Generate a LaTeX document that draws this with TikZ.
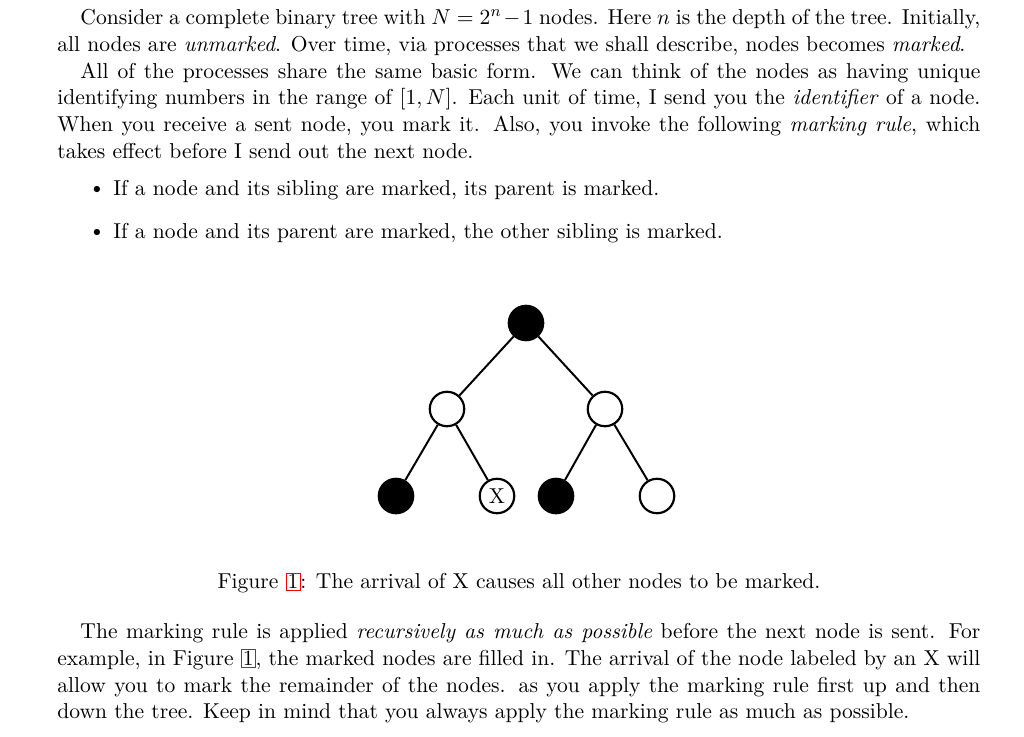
\documentclass[tikz,border=0pt]{standalone}
\usepackage{xcolor}
\begin{document}
\begin{tikzpicture}[x=0.5077pt,y=-0.5077pt,
  para/.style={anchor=north west,inner sep=0pt,text width=468.6pt,align=justify,font=\fontsize{10.95}{13.6}\selectfont},
  tn/.style={circle,draw,line width=1.1pt,minimum size=17.5pt,inner sep=0pt,font=\fontsize{10.95}{13.6}\selectfont},
  filled/.style={tn,fill=black},
  edge/.style={line width=1pt}]
\useasboundingbox (0,0) rectangle (1024,737);
\node[para] (p1) at (57,9) {\hspace*{11.7pt}Consider a complete binary tree with $N=2^n-1$ nodes. Here $n$ is the depth of the tree. Initially,\linebreak
all nodes are \emph{unmarked}. Over time, via processes that we shall describe, nodes becomes \emph{marked}.\hfill\break
\hspace*{11.7pt}All of the processes share the same basic form. We can think of the nodes as having unique\linebreak
identifying numbers in the range of $[1,N]$. Each unit of time, I send you the \emph{identifier} of a node.\linebreak
When you receive a sent node, you mark it. Also, you invoke the following \emph{marking rule}, which\linebreak
takes effect before I send out the next node.};
\node[inner sep=0pt,font=\fontsize{10.95}{13.6}\selectfont] (b1) at (97,190) {\textbullet};
\node[inner sep=0pt,font=\fontsize{10.95}{13.6}\selectfont,anchor=west] (t1) at (113,190) {If a node and its sibling are marked, its parent is marked.};
\node[inner sep=0pt,font=\fontsize{10.95}{13.6}\selectfont] (b2) at (97,233) {\textbullet};
\node[inner sep=0pt,font=\fontsize{10.95}{13.6}\selectfont,anchor=west] (t2) at (113,233) {If a node and its parent are marked, the other sibling is marked.};

\node[filled] (r) at (526,323) {};
\node[tn] (a) at (447,409) {};
\node[tn] (b) at (605,409) {};
\node[filled] (l1) at (396,496) {};
\node[tn] (l2) at (497,496) {X};
\node[filled] (l3) at (556,496) {};
\node[tn] (l4) at (657,496) {};
\draw[edge] (r) -- (a);
\draw[edge] (r) -- (b);
\draw[edge] (a) -- (l1);
\draw[edge] (a) -- (l2);
\draw[edge] (b) -- (l3);
\draw[edge] (b) -- (l4);

\node[inner sep=0pt,font=\fontsize{10.95}{13.6}\selectfont] (cap) at (519,583) {Figure {\setlength\fboxsep{0.6pt}\setlength\fboxrule{0.4pt}\fcolorbox{red}{white}{1}}: The arrival of X causes all other nodes to be marked.};

\node[para] (p3) at (57,623) {\hspace*{11.7pt}The marking rule is applied \emph{recursively as much as possible} before the next node is sent. For\linebreak
example, in Figure {\setlength\fboxsep{0.6pt}\setlength\fboxrule{0.4pt}\fcolorbox{red}{white}{1}}, the marked nodes are filled in. The arrival of the node labeled by an X will\linebreak
allow you to mark the remainder of the nodes. as you apply the marking rule first up and then\linebreak
down the tree. Keep in mind that you always apply the marking rule as much as possible.};
\end{tikzpicture}
\end{document}
